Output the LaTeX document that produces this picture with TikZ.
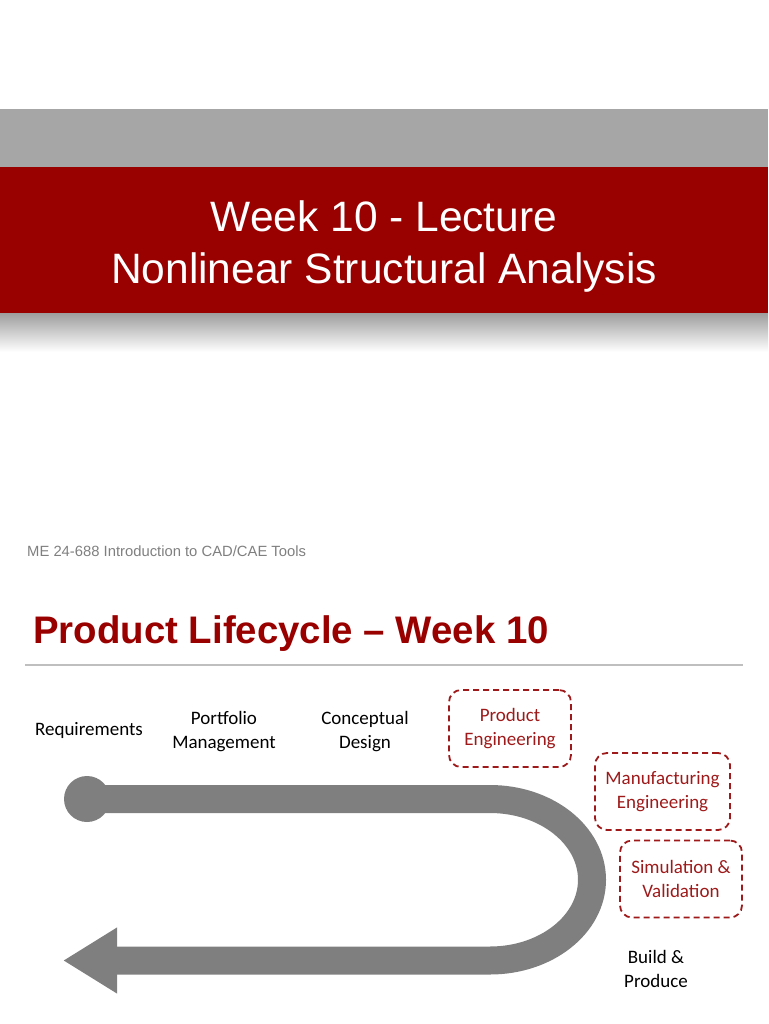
\documentclass[tikz,border=0pt]{standalone}
\usepackage{fontspec}
\setmainfont{Liberation Sans}
\newfontfamily\labelfont{Carlito}
\usetikzlibrary{arrows.meta, positioning}
\definecolor{lcred}{RGB}{153,0,0}
\definecolor{boxred}{RGB}{158,26,26}
\definecolor{bandgray}{RGB}{166,166,166}
\definecolor{arrowgray}{RGB}{127,127,127}

\begin{document}
\begin{tikzpicture}[
        x=1pt, y=-1pt,
        title/.style={text=white, anchor=base, font=\fontsize{42.5}{52}\selectfont},
        stage/.style={align=center, font=\labelfont\fontsize{19}{24}\selectfont},
        focus/.style={stage, text=boxred, draw=boxred, dash pattern=on 6pt off 4pt, line width=1.8pt, rounded corners=12pt, minimum width=122pt, minimum height=77pt},
        flow/.style={arrowgray, line width=28pt, -{Triangle[length=54pt, width=62pt]}}
    ]
        \useasboundingbox (0,0) rectangle (768,1024);

        % Banner
        \fill[bandgray] (0,109) rectangle (768,167);
        \fill[lcred] (0,167) rectangle (768,313);
        \shade[top color=black!38, bottom color=white] (0,313) rectangle (768,352);
        \node[title] (lecture) at (384,232) {Week 10 - Lecture};
        \node[title] (subject) at (384,283) {Nonlinear Structural Analysis};

        % Heading
        \node[anchor=base west, inner sep=0pt, text=arrowgray, font=\fontsize{14.8}{18}\selectfont] (course) at (27,556) {ME 24-688 Introduction to CAD/CAE Tools};
        \node[anchor=base west, inner sep=0pt, text=lcred, font=\bfseries\fontsize{38.4}{46}\selectfont] (heading) at (33,643) {Product Lifecycle – Week 10};
        \draw[black!25, line width=2.5pt] (25,665) -- (743,665);

        % Stages
        \node[stage] (req) at (89,730) {Requirements};
        \node[stage] (port) at (224,732) {Portfolio\\Management};
        \node[stage] (concept) at (365,732) {Conceptual\\Design};
        \node[focus] (prod) at (510,728.5) {Product\\Engineering};
        \node[focus, minimum width=135pt] (manuf) at (662.5,791.5) {Manufacturing\\Engineering};
        \node[focus] (sim) at (681,879) {Simulation \&\\Validation};
        \node[stage] (build) at (656,969) {Build \&\\Produce};

        % Lifecycle arrow
        \coordinate (start) at (87,799);
        \coordinate (bend) at (490,799);
        \coordinate (tip) at (63,960.5);
        \fill[arrowgray] (start) circle[radius=23];
        \draw[flow] (start) -- (bend) arc[start angle=-90, end angle=90, x radius=102, y radius=80.75] -- (tip);

    \end{tikzpicture}
\end{document}
